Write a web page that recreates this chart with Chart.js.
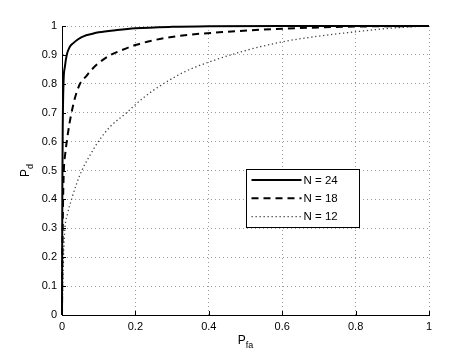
<!DOCTYPE html>
<html>
<head>
<meta charset="utf-8">
<script src="https://cdn.jsdelivr.net/npm/chart.js@4/dist/chart.umd.min.js"></script>
<style>
  html, body { margin: 0; padding: 0; background: #ffffff; }
  #wrap { position: relative; width: 474px; height: 355px; }
</style>
</head>
<body>
<div id="wrap"><canvas id="c"></canvas></div>
<script>
// ---- Data ----
const seriesLabels = ["N = 24", "N = 18", "N = 12"];

const pfa24 = [0, 0.001, 0.002, 0.004, 0.008, 0.013, 0.02, 0.03, 0.045, 0.06, 0.08, 0.1, 0.15, 0.2, 0.3, 0.4, 0.6, 1];
const pd24  = [0, 0.45, 0.65, 0.8, 0.86, 0.9, 0.925, 0.94, 0.955, 0.965, 0.972, 0.978, 0.986, 0.992, 0.997, 0.999, 1, 1];

const pfa18 = [0, 0.001, 0.003, 0.005, 0.009, 0.013, 0.02, 0.026, 0.035, 0.049, 0.065, 0.08, 0.1, 0.13, 0.16, 0.2, 0.27, 0.35, 0.45, 0.55, 0.65, 0.8, 1];
const pd18  = [0, 0.2, 0.4, 0.5, 0.56, 0.6, 0.66, 0.7, 0.75, 0.8, 0.825, 0.848, 0.872, 0.898, 0.915, 0.934, 0.956, 0.97, 0.98, 0.988, 0.993, 0.998, 1];

const pfa12 = [0, 0.002, 0.004, 0.008, 0.015, 0.026, 0.04, 0.054, 0.075, 0.099, 0.13, 0.176, 0.22, 0.276, 0.34, 0.4, 0.5, 0.6, 0.7, 0.8, 0.9, 1];
const pd12  = [0, 0.1, 0.2, 0.3, 0.35, 0.4, 0.455, 0.5, 0.55, 0.6, 0.65, 0.7, 0.75, 0.8, 0.845, 0.875, 0.915, 0.945, 0.965, 0.98, 0.993, 1];

const xTicks = [0, 0.2, 0.4, 0.6, 0.8, 1];
const yTicks = [0, 0.1, 0.2, 0.3, 0.4, 0.5, 0.6, 0.7, 0.8, 0.9, 1];

const xTitleMain = "P", xTitleSub = "fa";
const yTitleMain = "P", yTitleSub = "d";

// ---- helpers ----
const toPts = (xs, ys) => xs.map((x, i) => ({ x: x, y: ys[i] }));
const FONT = '"Liberation Sans", Arial, Helvetica, sans-serif';

const styles = [
  { color: '#000000', width: 2, dash: [] },
  { color: '#000000', width: 2, dash: [7, 5] },
  { color: '#444444', width: 1.3, dash: [1.3, 2.7] }
];

const extrasPlugin = {
  id: 'extras',
  afterDraw(chart) {
    const ctx = chart.ctx;
    const ca = chart.chartArea;
    const xs = chart.scales.x, ys = chart.scales.y;
    ctx.save();
    // inward tick marks
    ctx.strokeStyle = '#000';
    ctx.lineWidth = 1;
    ctx.setLineDash([]);
    ctx.beginPath();
    xTicks.forEach(v => {
      const px = Math.round(xs.getPixelForValue(v)) + 0.5;
      ctx.moveTo(px, ca.bottom);
      ctx.lineTo(px, ca.bottom - 4);
    });
    yTicks.forEach(v => {
      const py = Math.round(ys.getPixelForValue(v)) + 0.5;
      ctx.moveTo(ca.left, py);
      ctx.lineTo(ca.left + 4, py);
    });
    ctx.stroke();

    // axis titles with subscripts
    ctx.fillStyle = '#000';
    ctx.textBaseline = 'alphabetic';
    ctx.textAlign = 'left';
    // x title
    ctx.font = '12px ' + FONT;
    const xcx = (ca.left + ca.right) / 2;
    const wP = ctx.measureText(xTitleMain).width;
    ctx.font = '9px ' + FONT;
    const wSub = ctx.measureText(xTitleSub).width;
    const xStart = xcx - (wP + wSub) / 2;
    ctx.font = '12px ' + FONT;
    ctx.fillText(xTitleMain, xStart, 344);
    ctx.font = '9px ' + FONT;
    ctx.fillText(xTitleSub, xStart + wP, 348);
    // y title (rotated)
    ctx.save();
    ctx.translate(29, (ca.top + ca.bottom) / 2);
    ctx.rotate(-Math.PI / 2);
    ctx.font = '12px ' + FONT;
    const wPy = ctx.measureText(yTitleMain).width;
    ctx.font = '9px ' + FONT;
    const wSy = ctx.measureText(yTitleSub).width;
    const ys0 = -(wPy + wSy) / 2;
    ctx.font = '12px ' + FONT;
    ctx.fillText(yTitleMain, ys0, 0);
    ctx.font = '9px ' + FONT;
    ctx.fillText(yTitleSub, ys0 + wPy, 4);
    ctx.restore();

    // legend box
    const bx = Math.round(xs.getPixelForValue(0.5)) + 0.5;
    const bw = 113;
    const by = Math.round(ys.getPixelForValue(0.5)) - 1.5;
    const bh = 58;
    ctx.fillStyle = '#ffffff';
    ctx.fillRect(bx, by, bw, bh);
    ctx.strokeStyle = '#000';
    ctx.lineWidth = 1;
    ctx.strokeRect(bx, by, bw, bh);
    ctx.font = '11.5px ' + FONT;
    ctx.textBaseline = 'middle';
    ctx.fillStyle = '#000';
    seriesLabels.forEach((lab, i) => {
      const st = styles[i];
      const cy = by + 10.5 + i * 18.3;
      ctx.beginPath();
      ctx.strokeStyle = st.color;
      ctx.lineWidth = st.width;
      ctx.setLineDash(st.dash);
      ctx.moveTo(bx + 5, cy);
      ctx.lineTo(bx + 55, cy);
      ctx.stroke();
      ctx.setLineDash([]);
      ctx.fillText(lab, bx + 57, cy + 0.5);
    });
    ctx.restore();
  }
};

const datasets = [
  { label: seriesLabels[0], data: toPts(pfa24, pd24) },
  { label: seriesLabels[1], data: toPts(pfa18, pd18) },
  { label: seriesLabels[2], data: toPts(pfa12, pd12) }
].map((d, i) => Object.assign(d, {
  borderColor: styles[i].color,
  borderWidth: styles[i].width,
  borderDash: styles[i].dash,
  pointRadius: 0,
  fill: false,
  cubicInterpolationMode: 'monotone',
  clip: 4
}));

new Chart(document.getElementById('c'), {
  type: 'line',
  data: { datasets: datasets },
  options: {
    responsive: true,
    maintainAspectRatio: false,
    animation: false,
    layout: { padding: { left: 0, top: 26, right: 45, bottom: 0 } },
    plugins: { legend: { display: false }, tooltip: { enabled: false } },
    scales: {
      x: {
        type: 'linear', min: 0, max: 1,
        afterFit: s => { s.height = 40; },
        afterBuildTicks: s => { s.ticks = xTicks.map(v => ({ value: v })); },
        ticks: {
          color: '#000', padding: 5, maxRotation: 0,
          font: { family: FONT, size: 11 },
          callback: v => String(+v.toFixed(1))
        },
        grid: { color: '#9a9a9a', lineWidth: 1, drawTicks: false },
        border: { display: true, color: '#000', width: 1, dash: [1, 3] }
      },
      y: {
        type: 'linear', min: 0, max: 1,
        afterFit: s => { s.width = 62; },
        afterBuildTicks: s => { s.ticks = yTicks.map(v => ({ value: v })); },
        ticks: {
          color: '#000', padding: 5,
          font: { family: FONT, size: 11 },
          callback: v => String(+v.toFixed(1))
        },
        grid: { color: '#9a9a9a', lineWidth: 1, drawTicks: false },
        border: { display: true, color: '#000', width: 1, dash: [1, 3] }
      }
    }
  },
  plugins: [extrasPlugin]
});
</script>
</body>
</html>
